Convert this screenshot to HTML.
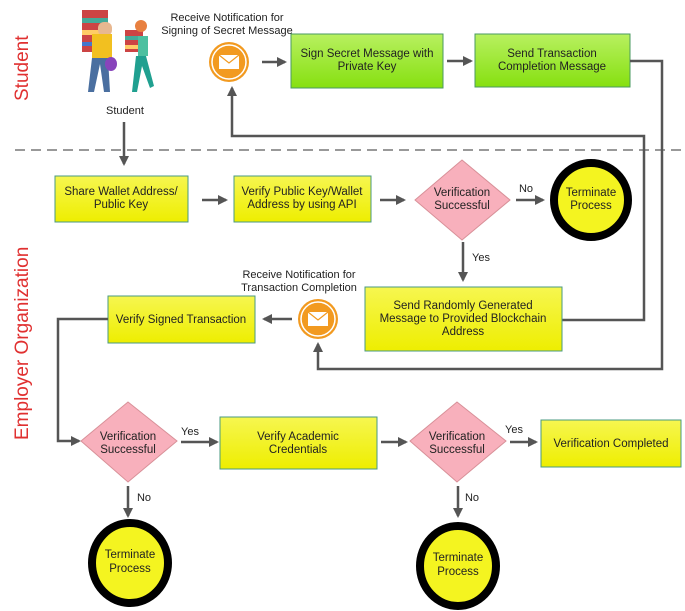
<!DOCTYPE html>
<html><head><meta charset="utf-8"><style>
body{margin:0;background:#fff;}
svg{display:block;font-family:"Liberation Sans",sans-serif;}
</style></head><body>
<svg width="685" height="611" viewBox="0 0 685 611" xmlns="http://www.w3.org/2000/svg">
<defs>
<marker id="a" markerWidth="10" markerHeight="10" refX="8" refY="5" orient="auto" markerUnits="userSpaceOnUse"><path d="M0,0 L10,5 L0,10 Z" fill="#555"/></marker>
<linearGradient id="g" x1="0" y1="0" x2="0" y2="1"><stop offset="0" stop-color="#b8f060"/><stop offset="1" stop-color="#86e010"/></linearGradient>
<linearGradient id="y" x1="0" y1="0" x2="0" y2="1"><stop offset="0" stop-color="#f6f650"/><stop offset="1" stop-color="#eeee00"/></linearGradient>
</defs>
<text transform="translate(28,101) rotate(-90)" font-size="19" fill="#e03030">Student</text>
<text transform="translate(28,440) rotate(-90)" font-size="19" fill="#e03030">Employer Organization</text>
<line x1="15" y1="150" x2="685" y2="150" stroke="#999" stroke-width="2" stroke-dasharray="10,6"/>

<g>
<rect x="82" y="10" width="26" height="42" fill="#c44"/>
<rect x="82" y="18" width="26" height="5" fill="#4a9"/><rect x="82" y="30" width="26" height="5" fill="#fc6"/><rect x="82" y="42" width="26" height="4" fill="#47c"/>
<rect x="98" y="22" width="14" height="14" rx="6" fill="#e8b890"/>
<rect x="92" y="34" width="20" height="24" fill="#f2c020"/>
<path d="M92 58 L88 92 L94 92 L100 64 L104 92 L110 92 L108 58 Z" fill="#4a6fa0"/>
<ellipse cx="111" cy="64" rx="6" ry="7" fill="#8844bb"/>
<rect x="125" y="30" width="18" height="22" fill="#c44"/>
<rect x="125" y="36" width="18" height="4" fill="#4a9"/><rect x="125" y="45" width="18" height="4" fill="#fc6"/>
<circle cx="141" cy="26" r="6" fill="#e88040"/>
<rect x="138" y="36" width="10" height="20" fill="#4cc0a0"/>
<path d="M136 56 L132 92 L137 92 L142 66 L150 88 L154 86 L146 56 Z" fill="#20a090"/>
</g>
<text x="125" y="114" font-size="11" text-anchor="middle" fill="#222">Student</text>
<line x1="124" y1="122" x2="124" y2="164" stroke="#555" stroke-width="2.5" marker-end="url(#a)"/>

<text x="227" y="21" font-size="11" text-anchor="middle" fill="#222">Receive Notification for</text>
<text x="227" y="34" font-size="11" text-anchor="middle" fill="#222">Signing of Secret Message</text>
<circle cx="229" cy="62" r="20" fill="#f29a20"/>
<circle cx="229" cy="62" r="17" fill="none" stroke="#fff" stroke-width="1.5"/>
<rect x="219" y="55" width="20" height="14" fill="#fff"/>
<path d="M219 55 L229 63 L239 55" fill="none" stroke="#f29a20" stroke-width="1.2"/>
<line x1="262" y1="62" x2="285" y2="62" stroke="#555" stroke-width="2.5" marker-end="url(#a)"/>

<rect x="291" y="34" width="152" height="54" fill="url(#g)" stroke="#4a9a60" stroke-width="1"/>
<text x="367" y="57" font-size="11.5" text-anchor="middle" fill="#222">Sign Secret Message with</text>
<text x="367" y="70" font-size="11.5" text-anchor="middle" fill="#222">Private Key</text>
<line x1="447" y1="61" x2="471" y2="61" stroke="#555" stroke-width="2.5" marker-end="url(#a)"/>
<rect x="475" y="34" width="155" height="53" fill="url(#g)" stroke="#4a9a60" stroke-width="1"/>
<text x="552" y="57" font-size="11.5" text-anchor="middle" fill="#222">Send Transaction</text>
<text x="552" y="70" font-size="11.5" text-anchor="middle" fill="#222">Completion Message</text>

<polyline points="630,61 662,61 662,369 318,369 318,344" fill="none" stroke="#555" stroke-width="2.5" marker-end="url(#a)"/>
<polyline points="562,320 644,320 644,136 232,136 232,88" fill="none" stroke="#555" stroke-width="2.5" marker-end="url(#a)"/>

<rect x="55" y="176" width="133" height="46" fill="url(#y)" stroke="#4a9a80" stroke-width="1"/>
<text x="121" y="195" font-size="11.5" text-anchor="middle" fill="#222">Share Wallet Address/</text>
<text x="121" y="208" font-size="11.5" text-anchor="middle" fill="#222">Public Key</text>
<line x1="202" y1="200" x2="226" y2="200" stroke="#555" stroke-width="2.5" marker-end="url(#a)"/>
<rect x="234" y="176" width="137" height="46" fill="url(#y)" stroke="#4a9a80" stroke-width="1"/>
<text x="302" y="195" font-size="11.5" text-anchor="middle" fill="#222">Verify Public Key/Wallet</text>
<text x="302" y="208" font-size="11.5" text-anchor="middle" fill="#222">Address by using API</text>
<line x1="380" y1="200" x2="404" y2="200" stroke="#555" stroke-width="2.5" marker-end="url(#a)"/>
<polygon points="462,160 510,200 462,240 415,200" fill="#f8b0bc" stroke="#d89098" stroke-width="1"/>
<text x="462" y="196" font-size="11.5" text-anchor="middle" fill="#222">Verification</text>
<text x="462" y="209" font-size="11.5" text-anchor="middle" fill="#222">Successful</text>
<text x="526" y="192" font-size="11" text-anchor="middle" fill="#222">No</text>
<line x1="516" y1="200" x2="543" y2="200" stroke="#555" stroke-width="2.5" marker-end="url(#a)"/>
<circle cx="591" cy="200" r="37" fill="#f4f420" stroke="#000" stroke-width="8"/>
<text x="591" y="196" font-size="11.5" text-anchor="middle" fill="#222">Terminate</text>
<text x="591" y="209" font-size="11.5" text-anchor="middle" fill="#222">Process</text>
<line x1="463" y1="242" x2="463" y2="280" stroke="#555" stroke-width="2.5" marker-end="url(#a)"/>
<text x="481" y="261" font-size="11" text-anchor="middle" fill="#222">Yes</text>

<rect x="365" y="287" width="197" height="64" fill="url(#y)" stroke="#4a9a80" stroke-width="1"/>
<text x="463" y="309" font-size="11.5" text-anchor="middle" fill="#222">Send Randomly Generated</text>
<text x="463" y="322" font-size="11.5" text-anchor="middle" fill="#222">Message to Provided Blockchain</text>
<text x="463" y="335" font-size="11.5" text-anchor="middle" fill="#222">Address</text>

<text x="299" y="278" font-size="11" text-anchor="middle" fill="#222">Receive Notification for</text>
<text x="299" y="291" font-size="11" text-anchor="middle" fill="#222">Transaction Completion</text>
<circle cx="318" cy="319" r="20" fill="#f29a20"/>
<circle cx="318" cy="319" r="17" fill="none" stroke="#fff" stroke-width="1.5"/>
<rect x="308" y="312" width="20" height="14" fill="#fff"/>
<path d="M308 312 L318 320 L328 312" fill="none" stroke="#f29a20" stroke-width="1.2"/>
<line x1="292" y1="319" x2="264" y2="319" stroke="#555" stroke-width="2.5" marker-end="url(#a)"/>
<rect x="108" y="296" width="147" height="47" fill="url(#y)" stroke="#4a9a80" stroke-width="1"/>
<text x="181" y="323" font-size="11.5" text-anchor="middle" fill="#222">Verify Signed Transaction</text>
<polyline points="108,319 58,319 58,441 79,441" fill="none" stroke="#555" stroke-width="2.5" marker-end="url(#a)"/>

<polygon points="128,402 177,441 128,482 81,441" fill="#f8b0bc" stroke="#d89098" stroke-width="1"/>
<text x="128" y="440" font-size="11.5" text-anchor="middle" fill="#222">Verification</text>
<text x="128" y="453" font-size="11.5" text-anchor="middle" fill="#222">Successful</text>
<text x="190" y="435" font-size="11" text-anchor="middle" fill="#222">Yes</text>
<line x1="181" y1="442" x2="217" y2="442" stroke="#555" stroke-width="2.5" marker-end="url(#a)"/>
<rect x="220" y="417" width="157" height="52" fill="url(#y)" stroke="#4a9a80" stroke-width="1"/>
<text x="298" y="440" font-size="11.5" text-anchor="middle" fill="#222">Verify Academic</text>
<text x="298" y="453" font-size="11.5" text-anchor="middle" fill="#222">Credentials</text>
<line x1="381" y1="442" x2="406" y2="442" stroke="#555" stroke-width="2.5" marker-end="url(#a)"/>
<polygon points="457,402 506,441 457,482 410,441" fill="#f8b0bc" stroke="#d89098" stroke-width="1"/>
<text x="457" y="440" font-size="11.5" text-anchor="middle" fill="#222">Verification</text>
<text x="457" y="453" font-size="11.5" text-anchor="middle" fill="#222">Successful</text>
<text x="514" y="433" font-size="11" text-anchor="middle" fill="#222">Yes</text>
<line x1="510" y1="442" x2="536" y2="442" stroke="#555" stroke-width="2.5" marker-end="url(#a)"/>
<rect x="541" y="420" width="140" height="47" fill="url(#y)" stroke="#4a9a80" stroke-width="1"/>
<text x="611" y="447" font-size="11.5" text-anchor="middle" fill="#222">Verification Completed</text>

<line x1="128" y1="486" x2="128" y2="516" stroke="#555" stroke-width="2.5" marker-end="url(#a)"/>
<text x="144" y="501" font-size="11" text-anchor="middle" fill="#222">No</text>
<line x1="458" y1="486" x2="458" y2="516" stroke="#555" stroke-width="2.5" marker-end="url(#a)"/>
<text x="472" y="501" font-size="11" text-anchor="middle" fill="#222">No</text>
<ellipse cx="130" cy="563" rx="38" ry="40" fill="#f4f420" stroke="#000" stroke-width="8"/>
<text x="130" y="558" font-size="11.5" text-anchor="middle" fill="#222">Terminate</text>
<text x="130" y="572" font-size="11.5" text-anchor="middle" fill="#222">Process</text>
<ellipse cx="458" cy="566" rx="38" ry="40" fill="#f4f420" stroke="#000" stroke-width="8"/>
<text x="458" y="561" font-size="11.5" text-anchor="middle" fill="#222">Terminate</text>
<text x="458" y="575" font-size="11.5" text-anchor="middle" fill="#222">Process</text>
</svg>
</body></html>
